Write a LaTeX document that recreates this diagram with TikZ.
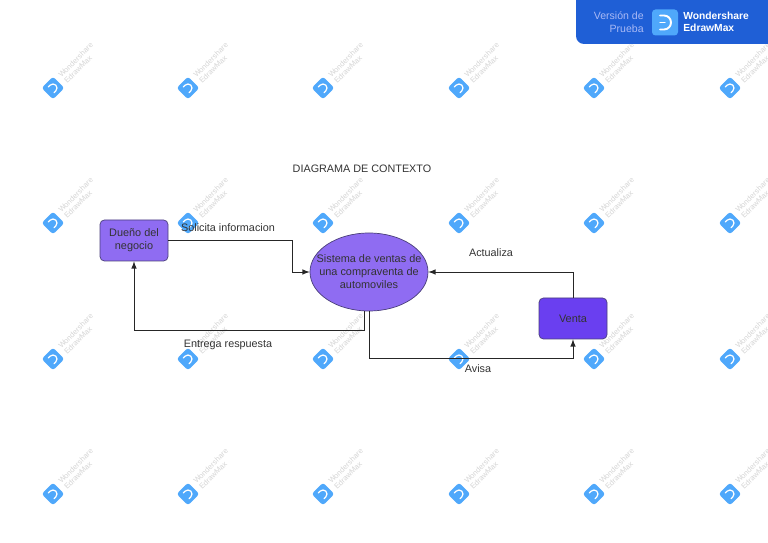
\documentclass[tikz,border=0pt]{standalone}
\usepackage{fontspec}
\usetikzlibrary{shapes.geometric}
\setmainfont{Liberation Sans}
\definecolor{contorno}{HTML}{4A3F7A}
\definecolor{lila}{HTML}{8F6CF2}
\definecolor{violeta}{HTML}{6A3FF0}
\definecolor{marca}{HTML}{4FA8FB}
\definecolor{banda}{HTML}{1F5FD6}
\tikzset{
  caja/.style={draw=contorno,rounded corners=2.5pt,align=center,inner sep=0pt,minimum width=1.36cm,minimum height=0.82cm,text=black!80,font=\fontsize{6.2}{7.4}\selectfont},
  etiqueta/.style={text=black!80,inner sep=0pt,font=\fontsize{6.15}{8}\selectfont},
  flecha/.style={>=latex,->,black!85,line width=0.45pt},
  sello/.style={fill=marca,rounded corners=1.5pt,minimum size=0.32cm,inner sep=0pt,rotate=45},
  selloT/.style={text=black!17,rotate=45,align=left,inner sep=0pt,font=\fontsize{4.3}{4.7}\selectfont}
}
\begin{document}
\begin{tikzpicture}
\useasboundingbox (0,0) rectangle (15.36,10.86);
% marcas de agua
\foreach \x in {1.06,3.76,6.46,9.18,11.88,14.6}
  \foreach \y in {9.1,6.4,3.68,0.98} {
    \node [sello] (s) at (\x,\y) {};
    \draw [white,line width=0.7pt,line cap=round,rotate around={45:(s.center)}] ([shift={(-0.05,0.08)}]s.center) -- ++(0.05,0) arc (90:-90:0.08) -- ++(-0.05,0);
    \node [selloT] (t) at (\x+0.51,\y+0.5) {Wondershare\\EdrawMax};
  }
% banda superior
\fill [banda] (11.52,10.86) -- (11.52,10.14) arc (180:270:0.16) -- (15.36,9.98) -- (15.36,10.86) -- cycle;
\node [text=blue!15!white!75!banda,anchor=east,align=right,inner sep=0pt,font=\fontsize{6}{7.6}\selectfont] (version) at (12.88,10.41) {Versión de\\Prueba};
\node [fill=marca,rounded corners=2pt,minimum size=0.52cm,inner sep=0pt] (logo) at (13.3,10.41) {};
\draw [white,line width=1.1pt,line cap=round] (13.2,10.55) -- ++(0.08,0) arc (90:-90:0.14) -- ++(-0.08,0);
\draw [white,line width=0.7pt,line cap=round] (13.2,10.41) -- (13.3,10.41);
\node [text=white,anchor=west,align=left,inner sep=0pt,font=\bfseries\fontsize{5.85}{7}\selectfont] (nombre) at (13.66,10.42) {Wondershare\\EdrawMax};
% diagrama
\node [etiqueta] (titulo) at (7.24,7.49) {DIAGRAMA DE CONTEXTO};
\node [caja,fill=lila] (dueno) at (2.68,6.05) {Dueño del\\negocio};
\node [draw=contorno,fill=lila,ellipse,align=center,inner sep=-1cm,minimum width=2.36cm,minimum height=1.56cm,text=black!80,font=\fontsize{6.2}{7.4}\selectfont] (sistema) at (7.38,5.42) {Sistema de ventas de\\una compraventa de\\automoviles};
\node [caja,fill=violeta] (venta) at (11.46,4.49) {Venta};
\draw [flecha] (dueno.east) -| (5.84,5.42) -- (sistema.west);
\draw [flecha] ([xshift=-0.1cm]sistema.south) -- ++(0,-0.38) -| (dueno.south);
\draw [flecha] (sistema.south) -- ++(0,-0.94) -| (venta.south);
\draw [flecha] (venta.north) |- (sistema.east);
\node [etiqueta] (solicita) at (4.56,6.3) {Solicita informacion};
\node [etiqueta] (entrega) at (4.56,3.97) {Entrega respuesta};
\node [etiqueta] (actualiza) at (9.82,5.8) {Actualiza};
\node [etiqueta] (avisa) at (9.56,3.48) {Avisa};
\end{tikzpicture}
\end{document}
